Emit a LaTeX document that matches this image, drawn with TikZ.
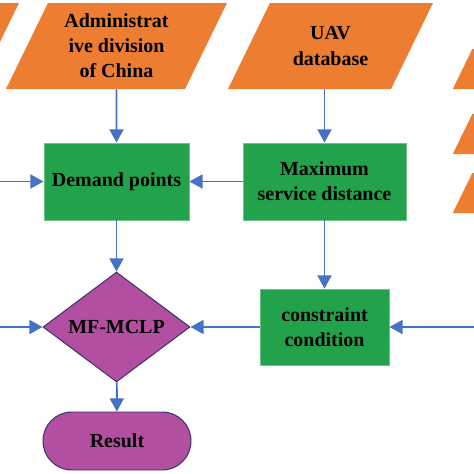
\documentclass[tikz,border=0pt]{standalone}
\usepackage{fontspec}
\setmainfont{Liberation Serif}
\definecolor{dataorange}{HTML}{ED7D31}
\definecolor{procgreen}{HTML}{22A34B}
\definecolor{decpurple}{HTML}{B24FA0}
\definecolor{decedge}{HTML}{3A2F6E}
\definecolor{arrowblue}{HTML}{4472C4}
\usetikzlibrary{shapes.geometric, arrows.meta, positioning}
% fixed height text block, so the slant of the data shape stays the same
\newcommand{\dlines}[2]{\parbox[c][#1][c]{2.8cm}{\centering #2}}
\tikzset{
  data/.style={
    trapezium, trapezium left angle=64, trapezium right angle=116,
    trapezium stretches body, fill=dataorange, draw=none,
    inner sep=0pt, align=center,
    font=\fontsize{14.2pt}{17.8pt}\selectfont\bfseries
  },
  proc/.style={
    rectangle, fill=procgreen, draw=procgreen!65!white, line width=0.6pt,
    minimum height=1.925cm, inner sep=0pt, align=center,
    font=\fontsize{14.2pt}{17.8pt}\selectfont\bfseries
  },
  dec/.style={
    diamond, fill=decpurple, draw=decedge, line width=0.7pt,
    minimum width=3.675cm, minimum height=2.15cm, inner sep=0pt,
    font=\fontsize{14.2pt}{17.8pt}\selectfont\bfseries
  },
  term/.style={
    rectangle, rounded corners=0.72cm, fill=decpurple, draw=decedge,
    line width=0.7pt, minimum width=3.7cm, minimum height=1.45cm,
    font=\fontsize{14.2pt}{17.8pt}\selectfont\bfseries
  },
  arr/.style={-{Triangle[length=0.33cm,width=0.35cm]}, line width=1.4pt, draw=arrowblue},
}

\begin{document}
\begin{tikzpicture}
    \useasboundingbox (0,0) rectangle (11.85,-11.85);
    \clip (0,0) rectangle (11.85,-11.85);

    % inputs
    \node[data, minimum width=5.525cm] (adm) at (2.9125,-1.15)
      {\dlines{2.15cm}{Administrat\\ive division\\of China}};
    \node[data, minimum width=5.125cm] (uav) at (8.2625,-1.15)
      {\dlines{2.15cm}{UAV\\database}};
    \node[data, minimum width=5.525cm] (lin) at (-2.2875,-1.15) {\dlines{2.15cm}{}};
    \node[data, minimum width=4.96cm] (rin1) at (13.8,-1.725) {\dlines{1cm}{}};
    \node[data, minimum width=4.96cm] (rin2) at (13.8,-3.35) {\dlines{1cm}{}};
    \node[data, minimum width=4.96cm] (rin3) at (13.8,-4.825) {\dlines{1cm}{}};

    % processes
    \node[proc, minimum width=3.625cm] (dem) at (2.9125,-4.5375) {Demand points};
    \node[proc, minimum width=4.075cm] (msd) at (8.1125,-4.5375)
      {Maximum\\service distance};
    \node[proc, minimum width=3.225cm, minimum height=1.9cm] (con) at (8.1125,-8.175)
      {constraint\\condition};

    \node[dec] (mclp) at (2.9125,-8.175) {MF-MCLP};
    \node[term] (res) at (2.925,-11.025) {Result};

    \coordinate (leftA) at (0,-4.5375);
    \coordinate (leftB) at (0,-8.175);
    \coordinate (rightB) at (11.85,-8.175);

    \draw[arr] (adm) -- (dem);
    \draw[arr] (msd.north |- uav.south) -- (msd.north);
    \draw[arr] (msd) -- (dem);
    \draw[arr] (leftA) -- (dem);
    \draw[arr] (msd) -- (con);
    \draw[arr] (dem) -- (mclp);
    \draw[arr] (con) -- (mclp);
    \draw[arr] (leftB) -- (mclp);
    \draw[arr] (rightB) -- (con);
    \draw[arr] (mclp) -- (res);
  \end{tikzpicture}
\end{document}
